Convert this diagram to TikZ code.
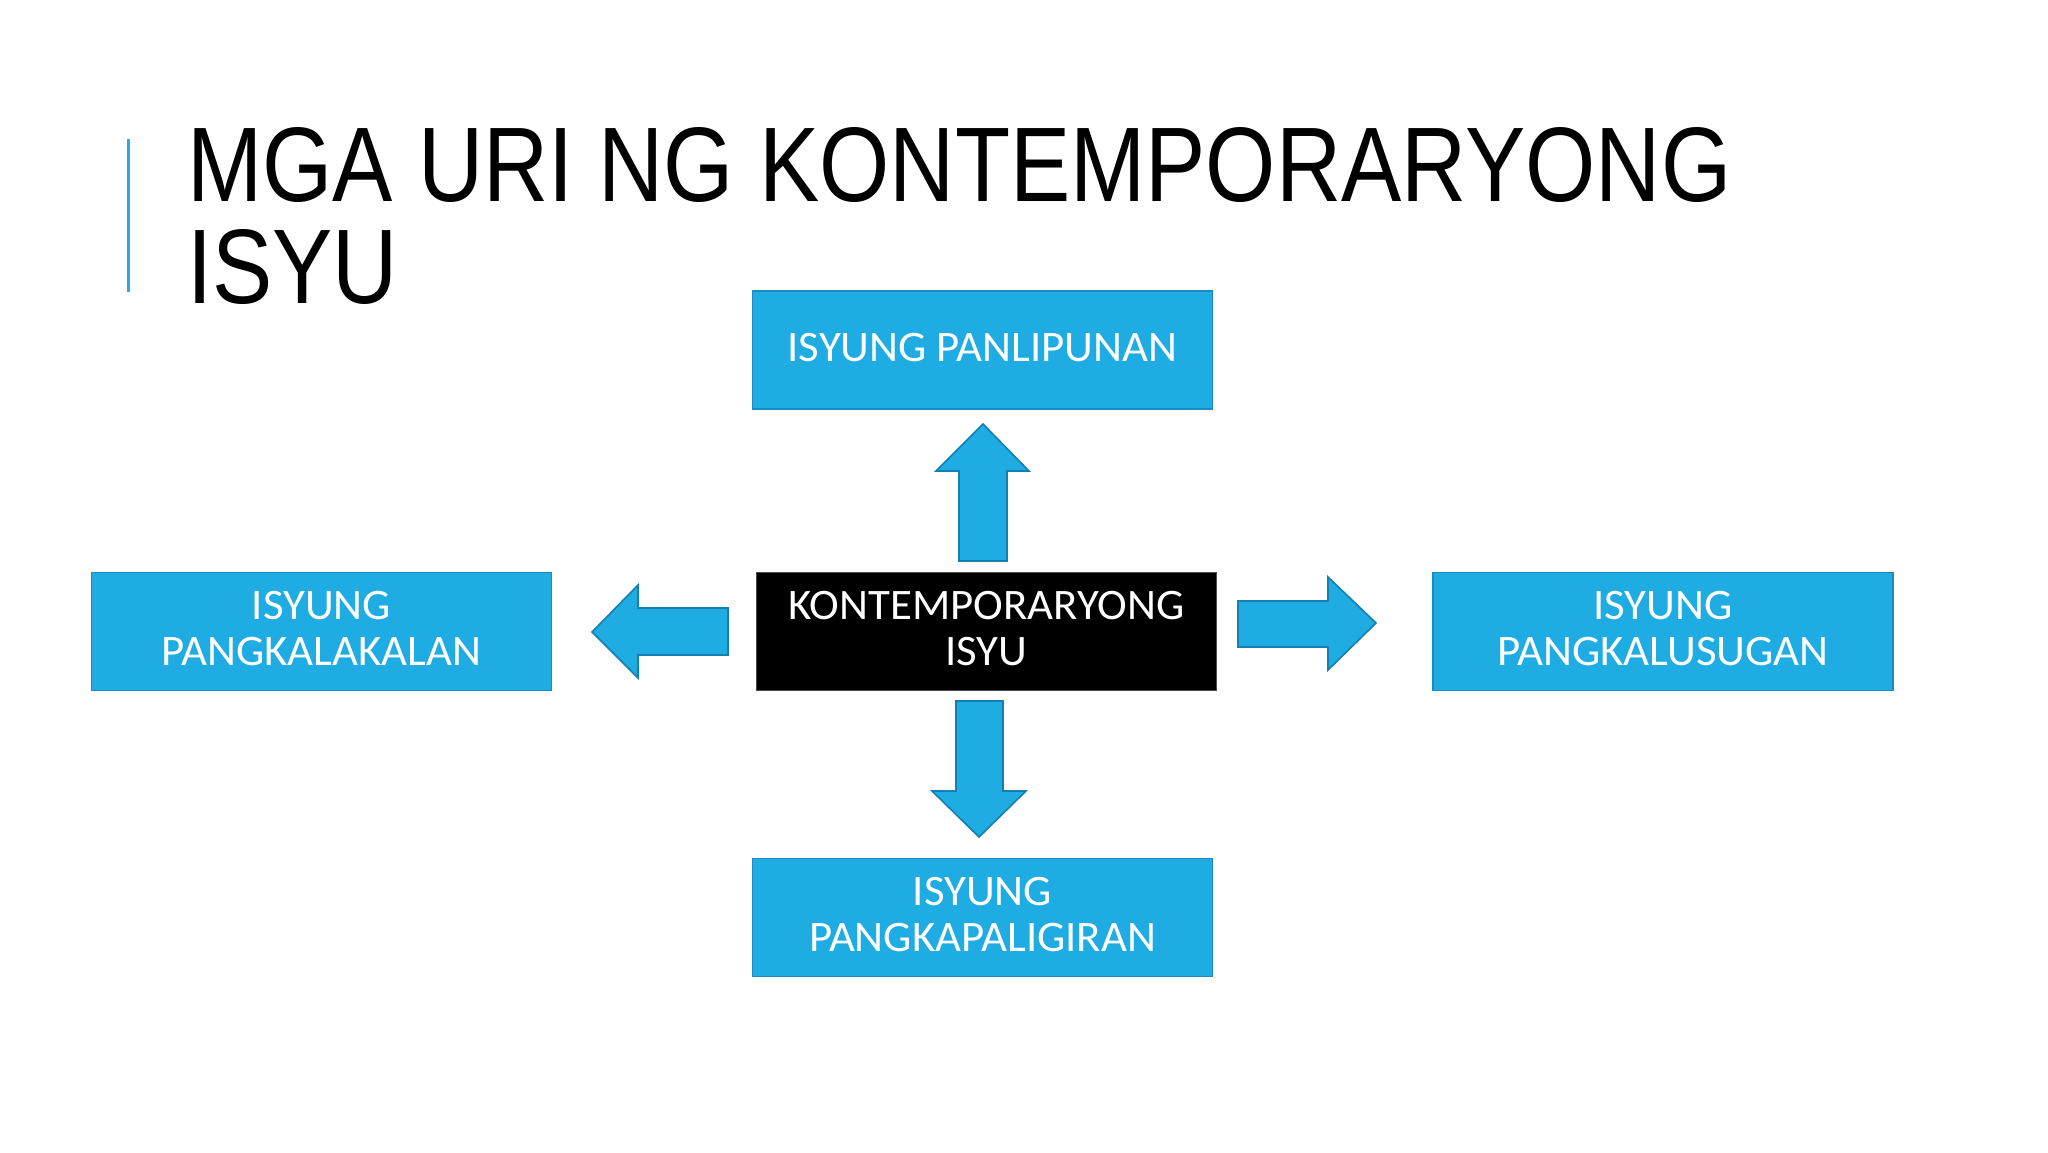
\documentclass[tikz,border=0pt]{standalone}
\usepackage{fontspec}
\setmainfont[FakeStretch=1.03]{Carlito}
\newfontfamily\titlefont[FakeStretch=0.852]{Liberation Sans}
\definecolor{boxblue}{HTML}{1FACE3}
\definecolor{boxedge}{HTML}{1C8CC0}
\definecolor{arrowedge}{HTML}{157FB0}
\definecolor{titleline}{HTML}{2AACE2}
\newcommand\lowstrut{\rule[-3pt]{0pt}{3pt}}
\begin{document}
\begin{tikzpicture}[x=0.5pt,y=-0.5pt,
  bluebox/.style={draw=boxedge, fill=boxblue, line width=0.8pt, minimum width=230pt, minimum height=59pt, inner sep=0pt, outer sep=0pt, text=white, align=center, font=\fontsize{21.75pt}{23pt}\selectfont},
  blackbox/.style={bluebox, fill=black, draw=black!70},
  blockarrow/.style={draw=arrowedge, fill=boxblue, line width=0.8pt, line join=miter},
  titletext/.style={anchor=base west, inner sep=0pt, font=\titlefont\fontsize{53pt}{51pt}\selectfont}
]
\fill[white] (0,0) rectangle (2048,1152);
\useasboundingbox (0,0) rectangle (2048,1152);

% title
\coordinate (lt) at (128,139);
\coordinate (lb) at (128,292);
\draw[titleline, line width=1.5pt] (lt) -- (lb);
\node[titletext] (t1) at (187,201) {MGA URI NG KONTEMPORARYONG};
\node[titletext] (t2) at (187,303) {ISYU};

% boxes
\node[blackbox] (c) at (986.5,631.5) {KONTEMPORARYONG\\ISYU\lowstrut};
\node[bluebox] (top) at (982.5,350) {ISYUNG PANLIPUNAN\lowstrut};
\node[bluebox] (left) at (321.5,631.5) {ISYUNG\\PANGKALAKALAN\lowstrut};
\node[bluebox] (right) at (1663,631.5) {ISYUNG\\PANGKALUSUGAN\lowstrut};
\node[bluebox] (bottom) at (982.5,917.5) {ISYUNG\\PANGKAPALIGIRAN\lowstrut};

% block arrows
\draw[blockarrow] (959,561) -- (959,471) -- (936,471) -- (983,424) -- (1029,471) -- (1007,471) -- (1007,561) -- cycle;
\draw[blockarrow] (956,701) -- (956,791) -- (932,791) -- (979,837) -- (1026,791) -- (1003,791) -- (1003,701) -- cycle;
\draw[blockarrow] (728,608) -- (638,608) -- (638,585) -- (592,632) -- (638,678) -- (638,655) -- (728,655) -- cycle;
\draw[blockarrow] (1238,601) -- (1328,601) -- (1328,577) -- (1376,623) -- (1328,670) -- (1328,647) -- (1238,647) -- cycle;
\end{tikzpicture}
\end{document}
